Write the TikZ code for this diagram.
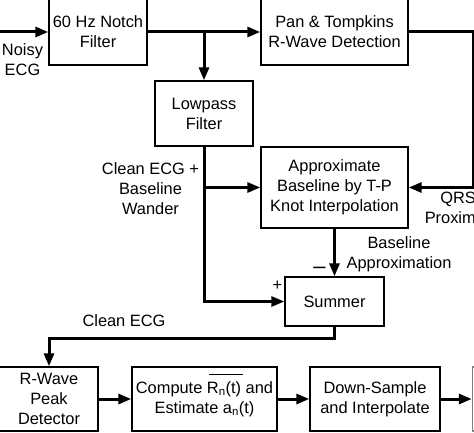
\documentclass[tikz,border=0pt]{standalone}
\usepackage{fontspec}
\usetikzlibrary{arrows.meta,fit}
\newfontfamily\diagfont{Liberation Sans}
\newcommand\lblfont{\diagfont\fontsize{16.4}{20}\selectfont}
\newcommand\myover[1]{\setbox0\hbox{#1}\rlap{\hspace{2pt}\smash{\rule[18pt]{\wd0}{1.3pt}}}\box0\relax}
\tikzset{
  boxnode/.style={draw, line width=1.4pt, align=center, inner sep=0pt, font=\lblfont},
  conn/.style={line width=3pt, -{Triangle[length=13pt,width=10pt]}},
  lbl/.style={align=center, inner sep=0pt, font=\lblfont},
}
\begin{document}
\begin{tikzpicture}[x=1pt,y=-1pt]
\useasboundingbox (0,0) rectangle (474,433);
\clip (0,0) rectangle (474,433);
% boxes
\node[boxnode, minimum width=98pt, minimum height=66pt] (notch) at (98,32) {60 Hz Notch\\Filter};
\node[boxnode, minimum width=147pt, minimum height=66pt] (pan) at (334.5,32) {Pan \& Tompkins\\R-Wave Detection};
\node[boxnode, minimum width=98pt, minimum height=65pt] (lowpass) at (204,113.5) {Lowpass\\Filter};
\node[boxnode, minimum width=147pt, minimum height=81pt] (approx) at (334.5,187.5) {Approximate\\Baseline by T-P\\Knot Interpolation};
\node[boxnode, minimum width=99pt, minimum height=49pt] (summer) at (334.5,301.5) {Summer};
\coordinate (rwA) at (-10,367);
\coordinate (rwB) at (98,431);
\node[draw, line width=1.4pt, inner sep=0pt, fit=(rwA)(rwB)] (rwavebox) {};
\node[lbl] (rwave) at (49,399) {R-Wave\\Peak\\Detector};
\node[boxnode, minimum width=145pt, minimum height=64pt] (compute) at (204.5,399) {Compute \myover{R\textsubscript{n}(t)} and\\Estimate a\textsubscript{n}(t)};
\node[boxnode, minimum width=130pt, minimum height=64pt] (down) at (375,399) {Down-Sample\\and Interpolate};
\coordinate (nxA) at (472.5,367);
\coordinate (nxB) at (560,431);
\node[draw=gray, line width=1.4pt, inner sep=0pt, fit=(nxA)(nxB)] (nextbox) {};
% connectors
\coordinate (noisyin) at (0,32);
\draw[conn] (noisyin) -- (notch.west);
\draw[conn] (notch.east) -- (pan.west);
\draw[conn] (notch.east -| lowpass.north) -- (lowpass.north);
\coordinate (qrscol) at (473,110);
\draw[conn] (pan.east) -| (qrscol) |- (approx.east);
\draw[conn] (lowpass.south) |- (summer.west);
\draw[conn] (lowpass.south |- approx.west) -- (approx.west);
\draw[conn] (approx.south) -- (summer.north);
\coordinate (cleanturn) at (334.5,338);
\draw[conn] (summer.south) -- (cleanturn) -| (rwave |- rwavebox.north);
\draw[conn] (rwavebox.east) -- (compute.west);
\draw[conn] (compute.east) -- (down.west);
\draw[conn] (down.east) -- (nextbox.west);
% labels
\node[lbl] (noisylbl) at (22.5,59.5) {Noisy\\ECG};
\node[lbl] (cleanbw) at (150.5,189) {Clean ECG +\\Baseline\\Wander};
\node[lbl, align=right, anchor=east] (qrslbl) at (476,207.5) {QRS\\Proxim};
\node[lbl] (baselbl) at (399,254) {Baseline\\Approximation};
\node[lbl, font=\diagfont\fontsize{22}{22}\selectfont] (minuslbl) at (319.5,270) {–};
\node[lbl] (pluslbl) at (277.5,286) {+};
\node[lbl] (cleanlbl) at (124,321) {Clean ECG};
\end{tikzpicture}
\end{document}
